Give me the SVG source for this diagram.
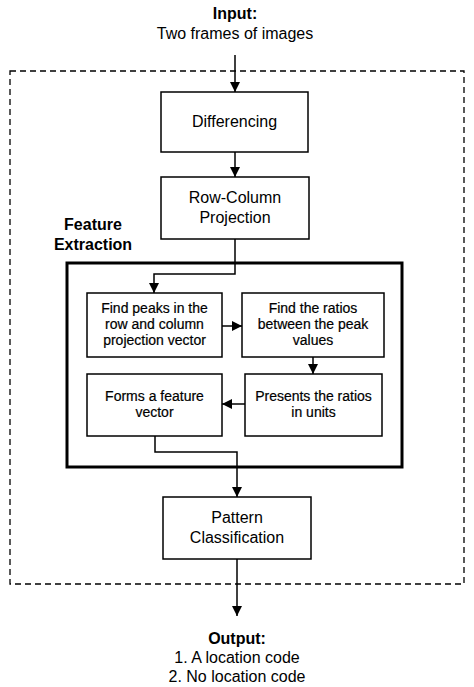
<svg xmlns="http://www.w3.org/2000/svg" width="474" height="687" viewBox="0 0 474 687">
<defs>
<marker id="ah" viewBox="0 0 10 10" refX="10" refY="5" markerWidth="10" markerHeight="10" markerUnits="userSpaceOnUse" orient="auto">
<path d="M0,0 L10,5 L0,10 z" fill="#000"/>
</marker>
<style>
.box{fill:#fff;stroke:#000;stroke-width:1.5}
.t{font-family:"Liberation Sans",Arial,sans-serif;font-size:16px;fill:#000;text-anchor:middle}
.s{font-family:"Liberation Sans",Arial,sans-serif;font-size:14px;fill:#000;text-anchor:middle;stroke:#000;stroke-width:0.2}
.b{font-weight:bold}
.c{fill:none;stroke:#000;stroke-width:1.5}
</style>
</defs>
<rect x="0" y="0" width="474" height="687" fill="#fff"/>
<g id="system">
<rect x="10" y="71" width="454" height="513" fill="none" stroke="#000" stroke-width="1.3" stroke-dasharray="6,4"/>
</g>
<g id="feature-extraction">
<rect x="67" y="263" width="335" height="204" fill="none" stroke="#000" stroke-width="3"/>
<text class="t b" x="93" y="230">Feature</text>
<text class="t b" x="93" y="250">Extraction</text>
</g>
<g id="input">
<text class="t b" x="235" y="19">Input:</text>
<text class="t" x="235" y="39">Two frames of images</text>
</g>
<g id="differencing">
<rect class="box" x="161" y="92" width="147" height="60"/>
<text class="t" x="234.5" y="127">Differencing</text>
</g>
<g id="row-column">
<rect class="box" x="161" y="177" width="148" height="62"/>
<text class="t" x="235" y="203">Row-Column</text>
<text class="t" x="235" y="223">Projection</text>
</g>
<g id="find-peaks">
<rect class="box" x="87" y="293" width="135" height="64"/>
<text class="s" x="154.5" y="313">Find peaks in the</text>
<text class="s" x="154.5" y="329">row and column</text>
<text class="s" x="154.5" y="345">projection vector</text>
</g>
<g id="find-ratios">
<rect class="box" x="242" y="293" width="142" height="64"/>
<text class="s" x="313" y="313">Find the ratios</text>
<text class="s" x="313" y="329">between the peak</text>
<text class="s" x="313" y="345">values</text>
</g>
<g id="presents-ratios">
<rect class="box" x="245" y="374" width="137" height="62"/>
<text class="s" x="313.5" y="401">Presents the ratios</text>
<text class="s" x="313.5" y="417">in units</text>
</g>
<g id="forms-vector">
<rect class="box" x="87" y="374" width="135" height="62"/>
<text class="s" x="154.5" y="401">Forms a feature</text>
<text class="s" x="154.5" y="417">vector</text>
</g>
<g id="pattern">
<rect class="box" x="163" y="497" width="148" height="62"/>
<text class="t" x="237" y="523">Pattern</text>
<text class="t" x="237" y="543">Classification</text>
</g>
<g id="output">
<text class="t b" x="237" y="644">Output:</text>
<text class="t" x="237" y="663">1. A location code</text>
<text class="t" x="237" y="682">2. No location code</text>
</g>
<g id="connectors">
<path class="c" d="M235,55 V92" marker-end="url(#ah)"/>
<path class="c" d="M235,152 V177" marker-end="url(#ah)"/>
<path class="c" d="M235,239 V274 H154 V293" marker-end="url(#ah)"/>
<path class="c" d="M222,326 H242" marker-end="url(#ah)"/>
<path class="c" d="M313,357 V374" marker-end="url(#ah)"/>
<path class="c" d="M245,404 H222" marker-end="url(#ah)"/>
<path class="c" d="M155,436 V452 H237 V497" marker-end="url(#ah)"/>
<path class="c" d="M237,559 V616" marker-end="url(#ah)"/>
</g>
</svg>
